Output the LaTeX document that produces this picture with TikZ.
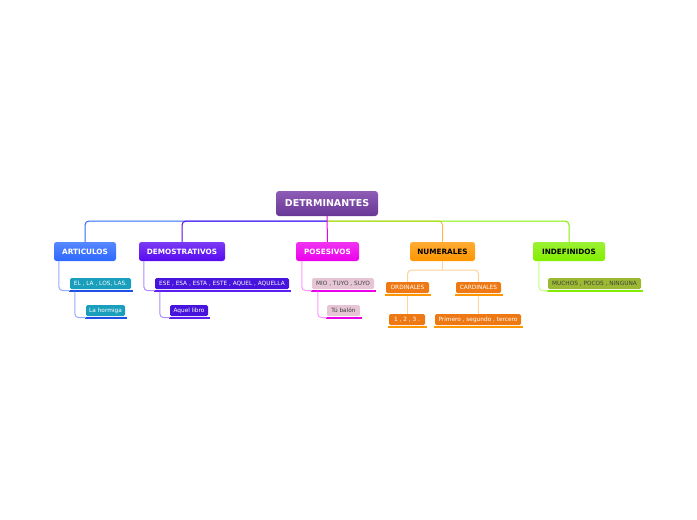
\documentclass[tikz,border=0pt]{standalone}
\usepackage{fontspec}
\setmainfont{DejaVu Sans}
\usetikzlibrary{positioning}
\definecolor{rootA}{RGB}{142,92,182}
\definecolor{rootB}{RGB}{104,56,150}
\definecolor{cart}{RGB}{45,105,255}
\definecolor{cdem}{RGB}{88,10,240}
\definecolor{cpos}{RGB}{236,0,236}
\definecolor{cnum}{RGB}{255,150,0}
\definecolor{cind}{RGB}{130,238,0}
\definecolor{lart}{RGB}{150,170,255}
\definecolor{ldem}{RGB}{175,140,255}
\definecolor{lpos}{RGB}{255,150,255}
\definecolor{lnum}{RGB}{255,210,150}
\definecolor{lind}{RGB}{190,255,120}
\definecolor{fart}{RGB}{25,158,188}
\definecolor{bart}{RGB}{30,80,230}
\definecolor{fdem}{RGB}{70,20,220}
\definecolor{bdem}{RGB}{90,30,240}
\definecolor{fpos}{RGB}{230,198,212}
\definecolor{fnum}{RGB}{238,120,20}
\definecolor{find}{RGB}{155,185,50}

\tikzset{
  mainbox/.style={rounded corners=3pt, inner sep=0pt, minimum width=102pt, minimum height=25pt,
    top color=rootA, bottom color=rootB, text=white, font=\fontsize{9.5}{10}\selectfont\bfseries},
  catbox/.style 2 args={rounded corners=2.5pt, inner sep=0pt, minimum height=19pt,
    top color=#1!80!white, bottom color=#1, text=#2, font=\fontsize{7.3}{8}\selectfont\bfseries},
  leafbox/.style 2 args={rounded corners=1.5pt, inner sep=0pt, minimum height=11pt,
    fill=#1, text=#2, font=\fontsize{5.8}{6}\selectfont},
  bar/.style={line width=2pt},
  link/.style={line width=1pt, rounded corners=4pt},
}

\begin{document}
\begin{tikzpicture}[x=1pt,y=-1pt]
\useasboundingbox (0,0) rectangle (697,520);

% root
\node[mainbox] (root) at (327,203.5) {DETRMINANTES};

% categories
\node[catbox={cart}{white}, minimum width=62pt] (art) at (85,251.5) {ARTICULOS};
\node[catbox={cdem}{white}, minimum width=86pt] (dem) at (182,251.5) {DEMOSTRATIVOS};
\node[catbox={cpos}{white}, minimum width=63pt] (pos) at (327.5,251.5) {POSESIVOS};
\node[catbox={cnum}{black}, minimum width=65pt] (num) at (442.5,251.5) {NUMERALES};
\node[catbox={cind}{black}, minimum width=72pt] (ind) at (569,251.5) {INDEFINIDOS};

% leaves
\node[leafbox={fart}{white}, minimum width=61pt] (el) at (100.5,283.5) {EL , LA , LOS, LAS.};
\node[leafbox={fart}{white}, minimum width=39pt] (horm) at (105.5,310.5) {La hormiga};
\node[leafbox={fdem}{white}, minimum width=134pt] (ese) at (222,283.5) {ESE , ESA , ESTA , ESTE , AQUEL , AQUELLA};
\node[leafbox={fdem}{white}, minimum width=38pt] (aquel) at (189,310.5) {Aquel libro};
\node[leafbox={fpos}{black!75}, minimum width=62pt] (mio) at (343,283.5) {MIO , TUYO , SUYO};
\node[leafbox={fpos}{black!75}, minimum width=33pt] (balon) at (343.5,310.5) {Tú balón};
\node[leafbox={fnum}{white}, minimum width=43pt] (ord) at (407.5,287.5) {ORDINALES};
\node[leafbox={fnum}{white}, minimum width=45pt] (card) at (478.5,287.5) {CARDINALES};
\node[leafbox={fnum}{white}, minimum width=36pt] (uno) at (407,319.5) {1 , 2 , 3 .};
\node[leafbox={fnum}{white}, minimum width=86pt] (prim) at (478,319.5) {Primero , segundo , tercero};
\node[leafbox={find}{black!75}, minimum width=93pt] (muchos) at (594.5,283.5) {MUCHOS , POCOS , NINGUNA};

% bars under leaves
\foreach \n/\c in {el/bart, horm/bart, ese/bdem, aquel/bdem, mio/cpos, balon/cpos,
                   ord/cnum, card/cnum, uno/cnum, prim/cnum, muchos/cind}
  \draw[bar,\c] ([xshift=-1pt,yshift=-1.5pt]\n.south west) -- ([xshift=2pt,yshift=-1.5pt]\n.south east);

% top links
\coordinate (hub) at (327,221);
\draw[link,cart] (hub) -| (art.north);
\draw[link,cdem] (hub) -| (dem.north);
\draw[link,cnum!70!white] (hub) -| (num.north);
\draw[link,cind] (hub) -| (ind.north);
\draw[link,cpos] (root.south) -- (pos.north);

% second level links
\draw[link,lart] ([xshift=5pt]art.south west) |- ([yshift=-1.5pt]el.south west);
\draw[link,lart] ([xshift=5pt,yshift=-2.5pt]el.south west) |- ([yshift=-1.5pt]horm.south west);
\draw[link,ldem] ([xshift=5pt]dem.south west) |- ([yshift=-1.5pt]ese.south west);
\draw[link,ldem] ([xshift=5pt,yshift=-2.5pt]ese.south west) |- ([yshift=-1.5pt]aquel.south west);
\draw[link,lpos] ([xshift=6pt]pos.south west) |- ([yshift=-1.5pt]mio.south west);
\draw[link,lpos] ([xshift=6pt,yshift=-2.5pt]mio.south west) |- ([yshift=-1.5pt]balon.south west);
\draw[link,lind] ([xshift=6pt]ind.south west) |- ([yshift=-1.5pt]muchos.south west);

\coordinate (nhub) at (442.5,270);
\draw[link,lnum] (num.south) -- (nhub);
\draw[link,lnum] (nhub) -| (ord.north);
\draw[link,lnum] (nhub) -| (card.north);
\draw[link,lnum] ([yshift=-2.5pt]ord.south) -- (ord.south |- uno.north);
\draw[link,lnum] ([yshift=-2.5pt]card.south) -- (card.south |- prim.north);
\end{tikzpicture}
\end{document}
